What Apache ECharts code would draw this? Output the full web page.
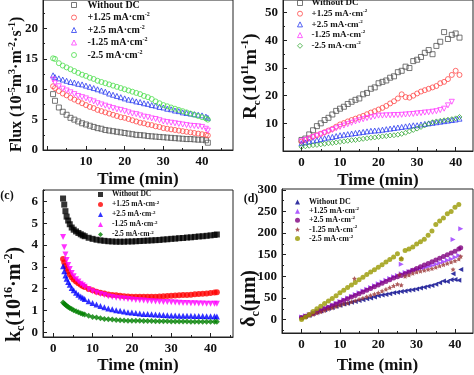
<!DOCTYPE html>
<html><head><meta charset="utf-8">
<script src="https://cdn.jsdelivr.net/npm/echarts@6/dist/echarts.min.js"></script>
<style>html,body{margin:0;padding:0;background:#fff}#c{width:474px;height:375px}</style>
</head><body><div id="c"></div>
<script>
// ---------- Panel (a): Flux ----------
const aTime = [1.5,2,3,4,5,6,7,8,9,10,11,12,13,14,15,16,17,18,19,20,21,22,23,24,25,26,27,28,29,30,31,32,33,34,35,36,37,38,39,40,41,41.5];
const aWithout = [9.2,8.1,7.0,6.3,5.8,5.3,5.0,4.7,4.4,4.2,4.0,3.8,3.6,3.5,3.3,3.2,3.1,3.0,2.9,2.8,2.7,2.6,2.5,2.45,2.4,2.3,2.25,2.2,2.15,2.1,2.05,2.0,1.95,1.9,1.85,1.8,1.8,1.75,1.7,1.7,1.6,1.2];
const aPlus125 = [10.5,10.2,9.7,9.3,9.0,8.6,8.3,8.0,7.7,7.4,7.1,6.9,6.6,6.4,6.2,6.0,5.8,5.6,5.4,5.3,5.1,4.9,4.7,4.5,4.4,4.2,4.1,3.9,3.8,3.6,3.5,3.4,3.3,3.2,3.1,3.0,2.9,2.8,2.7,2.6,2.5,2.4];
const aPlus25 = [12.3,12.0,11.8,11.6,11.4,11.2,11.1,10.9,10.8,10.6,10.4,10.2,10.0,9.8,9.6,9.3,9.1,8.9,8.7,8.5,8.3,8.2,8.0,7.9,7.7,7.6,7.4,7.3,7.1,7.0,6.8,6.7,6.5,6.4,6.2,6.1,6.0,5.9,5.8,5.7,5.5,5.3];
const aMinus125 = [11.6,11.0,10.5,10.1,9.8,9.5,9.2,8.9,8.7,8.5,8.2,8.0,7.7,7.5,7.3,7.1,6.9,6.7,6.6,6.4,6.2,6.0,5.9,5.7,5.5,5.4,5.2,5.1,4.9,4.7,4.6,4.5,4.4,4.3,4.2,4.1,4.0,3.95,3.9,3.8,3.5,3.2];
const aMinus25 = [15.1,15.0,14.3,13.9,13.6,13.3,13.0,12.7,12.4,12.2,11.9,11.7,11.4,11.2,11.0,10.8,10.6,10.4,10.2,10.0,9.8,9.6,9.4,9.2,8.9,8.7,8.4,8.0,7.7,7.4,7.2,7.0,6.8,6.6,6.4,6.2,6.0,5.8,5.6,5.4,5.2,5.0];

// ---------- Panel (b): Rc ----------
const bTime = [0,1,2,3,4,5,6,7,8,9,10,11,12,13,14,15,16,17,18,19,20,21,22,23,24,25,26,27,28,29,30,31,32,33,34,35,36,37,38,39,40,41];
const bWithout = [4.0,4.5,6.0,7.5,9.0,10.0,11.2,12.0,13.2,14.5,15.3,16.0,17.0,17.8,18.5,19.0,20.5,21.0,22.5,23.0,24.5,25.0,25.5,26.5,27.0,28.5,29.0,30.5,30.0,32.5,33.0,34.0,35.5,36.5,35.0,38.0,39.5,43.0,40.5,42.0,42.5,41.0];
const bPlus125 = [3.4,4.0,4.6,5.2,5.7,6.2,6.8,7.4,8.0,8.8,9.6,10.1,10.7,11.2,11.7,12.2,12.7,13.3,13.9,14.4,15.0,15.6,16.3,17.2,18.0,19.0,20.5,19.5,19.3,20.0,20.8,21.5,22.0,22.5,23.0,23.5,24.5,25.0,26.0,27.5,29.0,27.5];
const bPlus25 = [2.8,3.1,3.4,3.7,4.0,4.3,4.6,4.9,5.1,5.4,5.7,5.9,6.1,6.3,6.5,6.7,6.9,7.1,7.3,7.4,7.5,7.7,7.9,8.1,8.3,8.5,8.7,8.9,9.1,9.3,9.3,9.6,9.8,10.0,10.2,10.4,10.6,10.8,11.0,11.2,11.4,11.7];
const bMinus125 = [3.5,4.0,4.5,5.0,5.5,6.0,6.5,7.0,7.6,8.2,8.7,9.2,9.7,10.2,10.7,11.1,11.5,11.9,12.2,12.5,12.8,12.8,12.9,12.9,13.0,13.0,13.1,13.2,13.3,13.4,13.6,13.7,13.9,14.0,14.2,14.4,14.8,15.3,16.5,17.8];
const bMinus25 = [1.5,1.7,1.9,2.1,2.2,2.4,2.6,2.8,2.9,3.1,3.3,3.5,3.7,3.9,4.0,4.2,4.4,4.6,4.8,4.9,5.1,5.3,5.4,5.6,5.7,5.9,6.2,6.6,7.1,7.6,8.1,8.7,9.3,9.9,10.4,10.7,10.9,11.1,11.3,11.5,11.8,12.3];

// ---------- Panel (c): kc ----------
const cTime = [2.5,2.8,3.1,3.4,3.8,4.2,4.7,5.2,5.8,6.4,7,7.5,8,9,10,11,12,13,14,15,16,17,18,19,20,21,22,23,24,25,26,27,28,29,30,31,32,33,34,35,36,37,38,39,40,41,41.6];
const cWithout = [6.13,5.85,5.55,5.3,5.12,4.95,4.8,4.7,4.62,4.55,4.49,4.44,4.4,4.33,4.28,4.24,4.21,4.19,4.17,4.16,4.15,4.15,4.15,4.16,4.16,4.17,4.18,4.19,4.2,4.21,4.22,4.23,4.25,4.26,4.28,4.29,4.31,4.32,4.34,4.35,4.37,4.39,4.4,4.42,4.44,4.46,4.48];
const cPlus125 = [3.36,3.2,3.05,2.92,2.78,2.65,2.52,2.42,2.33,2.25,2.18,2.12,2.07,1.98,1.92,1.86,1.81,1.77,1.73,1.71,1.69,1.67,1.65,1.64,1.63,1.63,1.62,1.62,1.62,1.63,1.63,1.64,1.65,1.66,1.67,1.68,1.69,1.7,1.71,1.72,1.74,1.75,1.76,1.78,1.8,1.82,1.83];
const cPlus25 = [3.02,2.8,2.6,2.45,2.3,2.17,2.03,1.92,1.81,1.72,1.64,1.58,1.52,1.42,1.34,1.27,1.2,1.14,1.09,1.05,1.01,0.98,0.95,0.92,0.9,0.88,0.86,0.84,0.83,0.82,0.81,0.8,0.79,0.78,0.77,0.77,0.76,0.76,0.75,0.75,0.74,0.74,0.74,0.73,0.73,0.73,0.72];
const cMinus125 = [4.37,3.9,3.56,3.31,3.08,2.9,2.72,2.57,2.43,2.32,2.22,2.15,2.08,1.97,1.88,1.81,1.75,1.7,1.65,1.61,1.58,1.56,1.54,1.52,1.5,1.48,1.46,1.45,1.43,1.42,1.41,1.4,1.39,1.38,1.37,1.36,1.35,1.34,1.34,1.33,1.33,1.32,1.32,1.31,1.31,1.3,1.3];
const cMinus25 = [1.36,1.31,1.26,1.21,1.16,1.11,1.06,1.01,0.96,0.91,0.87,0.84,0.81,0.75,0.7,0.67,0.64,0.61,0.59,0.58,0.56,0.55,0.54,0.53,0.53,0.52,0.52,0.51,0.51,0.51,0.5,0.5,0.5,0.5,0.49,0.49,0.49,0.49,0.49,0.48,0.48,0.48,0.48,0.48,0.48,0.48,0.48];

// ---------- Panel (d): delta_c ----------
const dTime = [0,1,2,3,4,5,6,7,8,9,10,11,12,13,14,15,16,17,18,19,20,21,22,23,24,25,26,27,28,29,30,31,32,33,34,35,36,37,38,39,40,41];
const dWithout = [4,7,10,14,17,20,23,26,28,31,33,36,38,40,42,44,46,48,50,52,55,57,58,60,62,63,65,66,68,69,71,73,75,77,79,82,85,89,88,92,93,91];
const dWithoutExtra = [[39.5,106],[41.5,116]];
const dPlus125 = [6,9,12,16,19,23,27,30,34,38,42,46,50,54,58,62,66,70,74,78,83,87,91,95,99,102,106,109,111,114,116,118,120,123,125,128,131,134,137,140,144,148];
const dPlus125Extra = [[26,128],[39.5,185],[41.5,210]];
const dPlus25 = [5,8,11,14,18,21,25,28,32,36,40,44,48,52,56,60,64,68,72,76,80,84,88,92,96,99,102,106,110,114,118,122,126,130,134,138,142,146,150,154,158,163];
const dPlus25Extra = [[41.5,166]];
const dMinus125 = [3,6,9,12,15,18,21,24,27,30,33,36,38,41,44,47,50,53,56,59,62,66,70,74,78,82,80,100,103,107,110,112,114,116,118,121,124,127,130,133,136,140];
const dMinus125Extra = [[13.8,95],[25.5,104],[26,141],[39.5,116],[41.5,146]];
const dMinus25 = [0,6,12,19,25,31,37,43,49,55,62,68,74,80,86,92,98,104,110,115,121,127,133,139,145,152,140,160,163,168,175,180,186,195,205,220,228,235,245,250,260,266];

const names = ['Without DC','+1.25 mA·cm-2','+2.5 mA·cm-2','-1.25 mA·cm-2','-2.5 mA·cm-2'];

const SERIF = '"Liberation Serif","Times New Roman",serif';
const zip = (t, v) => v.map((y, i) => [t[i], y]);

function sc(p, idx, data, symbol, color, size, hollow, rot, gi) {
  return {
    type: 'scatter', name: p + '|' + names[idx], xAxisIndex: gi*2, yAxisIndex: gi*2,
    data: data, symbol: symbol, symbolSize: size, symbolRotate: rot || 0,
    itemStyle: hollow ? {color: 'rgba(0,0,0,0)', borderColor: color, borderWidth: 1} : {color: color},
    emphasis: {disabled: true}, z: 3 + idx
  };
}

const lineC = '#222';
function axes(dir, gi, min, max, ticks, labels, minor, nameOpt) {
  const pos = dir === 'x' ? 'bottom' : 'left';
  const main = {
    type: 'value', gridIndex: gi, min: min, max: max, position: pos,
    axisLine: {show: true, onZero: false, lineStyle: {color: lineC, width: 1}},
    axisTick: {show: true, inside: true, length: 4, customValues: ticks, lineStyle: {color: lineC}},
    axisLabel: {show: true, customValues: labels, fontFamily: SERIF, fontWeight: 'bold', fontSize: 13, color: '#111', margin: 5},
    splitLine: {show: false}
  };
  if (nameOpt) Object.assign(main, nameOpt);
  const mn = {
    type: 'value', gridIndex: gi, min: min, max: max, position: pos, offset: 0,
    axisLine: {show: false, onZero: false}, axisLabel: {show: false}, splitLine: {show: false},
    axisTick: {show: true, inside: true, length: 2, customValues: minor, lineStyle: {color: lineC}}
  };
  return [main, mn];
}
const timeName = (gap) => ({name: 'Time (min)', nameLocation: 'middle', nameGap: gap,
  nameTextStyle: {fontFamily: SERIF, fontWeight: 'bold', fontSize: 17, color: '#111'}});

const xAxis = [].concat(
  axes('x', 0, -1.1, 48, [0,10,20,30,40], [10,20,30,40], [5,15,25,35,45], timeName(21)),
  axes('x', 1, -4.8, 44.5, [0,10,20,30,40], [0,10,20,30,40], [5,15,25,35], timeName(21)),
  axes('x', 2, -2.6, 45.7, [0,10,20,30,40], [0,10,20,30,40], [5,15,25,35,45], timeName(20)),
  axes('x', 3, -5.1, 44.7, [0,10,20,30,40], [0,10,20,30,40], [5,15,25,35], timeName(24))
);
const yAxis = [].concat(
  axes('y', 0, 0, 24.7, [0,5,10,15,20], [0,5,10,15,20], [2.5,7.5,12.5,17.5,22.5]),
  axes('y', 1, 0, 54.6, [0,10,20,30,40,50], [10,20,30,40,50], [5,15,25,35,45]),
  axes('y', 2, -0.22, 6.52, [0,1,2,3,4,5,6], [0,1,2,3,4,5,6], [0.5,1.5,2.5,3.5,4.5,5.5,6.5]),
  axes('y', 3, -31, 302, [0,50,100,150,200,250,300], [0,50,100,150,200,250,300], [-25,25,75,125,175,225,275])
);

const grid = [
  {left: 43, top: -2, width: 190, height: 152},
  {left: 283, top: -2, width: 190, height: 153},
  {left: 43, top: 190, width: 190, height: 154},
  {left: 282, top: 189, width: 191, height: 150}
].map(g => Object.assign(g, {show: true, borderColor: lineC, borderWidth: 1, backgroundColor: 'transparent', containLabel: false}));

const aCol = ['#555555','#ff4a4a','#2a3cf0','#ff3cff','#4ddf4d'];
const bCol = ['#555555','#ff4a4a','#2a3cf0','#ff3cff','#35a835'];
const cCol = ['#000000','#ff0000','#0000ff','#ff00ff','#008000'];
const dCol = ['#00008b','#9933ff','#800080','#993333','#999900'];
const star = 'path://M0,-10 L2.9,-4 9.5,-3.1 4.7,1.5 5.9,8.1 0,5 -5.9,8.1 -4.7,1.5 -9.5,-3.1 -2.9,-4Z';

const HS = 5;
const series = [
  sc('a',0,zip(aTime,aWithout),'rect',aCol[0],HS,true,0,0),
  sc('a',1,zip(aTime,aPlus125),'circle',aCol[1],HS,true,0,0),
  sc('a',2,zip(aTime,aPlus25),'triangle',aCol[2],HS,true,0,0),
  sc('a',3,zip(aTime,aMinus125),'triangle',aCol[3],HS,true,180,0),
  sc('a',4,zip(aTime,aMinus25),'circle',aCol[4],HS,true,0,0),
  sc('b',0,zip(bTime,bWithout),'rect',bCol[0],HS,true,0,1),
  sc('b',1,zip(bTime,bPlus125),'circle',bCol[1],HS,true,0,1),
  sc('b',2,zip(bTime,bPlus25),'triangle',bCol[2],HS,true,0,1),
  sc('b',3,zip(bTime,bMinus125),'triangle',bCol[3],HS,true,180,1),
  sc('b',4,zip(bTime,bMinus25),'diamond',bCol[4],HS,true,0,1),
  sc('c',0,zip(cTime,cWithout),'rect',cCol[0],6,false,0,2),
  sc('c',1,zip(cTime,cPlus125),'circle',cCol[1],6,false,0,2),
  sc('c',2,zip(cTime,cPlus25),'triangle',cCol[2],6,false,0,2),
  sc('c',3,zip(cTime,cMinus125),'triangle',cCol[3],6,false,180,2),
  sc('c',4,zip(cTime,cMinus25),'diamond',cCol[4],6,false,0,2),
  sc('d',0,zip(dTime,dWithout).concat(dWithoutExtra),'triangle',dCol[0],5,false,90,3),
  sc('d',1,zip(dTime,dPlus125).concat(dPlus125Extra),'triangle',dCol[1],5,false,-90,3),
  sc('d',2,zip(dTime,dPlus25).concat(dPlus25Extra),'circle',dCol[2],5,false,0,3),
  sc('d',3,zip(dTime,dMinus125).concat(dMinus125Extra),star,dCol[3],5,false,0,3),
  sc('d',4,zip(dTime,dMinus25),'circle',dCol[4],5,false,0,3)
];

function legend(p, left, top, fs, lh, gap, iconSize, pad) {
  return {
    data: names.map(n => p + '|' + n), orient: 'vertical', left: left, top: top, padding: 0,
    itemWidth: iconSize, itemHeight: iconSize, itemGap: gap, selectedMode: false,
    itemStyle: {borderWidth: 1},
    formatter: function (name) {
      const n = name.split('|')[1];
      if (n.endsWith('cm-2')) return '{t|' + n.slice(0, -2) + '}{s|-2}';
      return '{t|' + n + '}';
    },
    textStyle: {color: '#111', padding: [0,0,0,pad], rich: {
      t: {fontFamily: SERIF, fontWeight: 'bold', fontSize: fs, lineHeight: lh, color: '#111'},
      s: {fontFamily: SERIF, fontWeight: 'bold', fontSize: Math.round(fs*0.6), lineHeight: lh, verticalAlign: 'top', color: '#111'}
    }}
  };
}

const richY = (fs) => ({
  s: {fontFamily: SERIF, fontWeight: 'bold', fontSize: Math.round(fs*0.6), verticalAlign: 'top', lineHeight: fs + 4, fill: '#111'},
  sub: {fontFamily: SERIF, fontWeight: 'bold', fontSize: Math.round(fs*0.6), verticalAlign: 'bottom', lineHeight: fs + 4, fill: '#111'}
});
// x,y = start (bottom end) of the rotated title
function ytitle(text, x, y, fs) {
  return {type: 'text', x: x, y: y, rotation: Math.PI/2, z: 10,
    style: {text: text, fontFamily: SERIF, fontWeight: 'bold', fontSize: fs, lineHeight: fs + 4, fill: '#111',
      align: 'left', verticalAlign: 'middle', textAlign: 'left', textVerticalAlign: 'middle', rich: richY(fs)}};
}
function label(text, x, y) {
  return {type: 'text', x: x, y: y, z: 10,
    style: {text: text, fontFamily: SERIF, fontWeight: 'bold', fontSize: 12, fill: '#111',
      align: 'center', verticalAlign: 'middle', textAlign: 'center', textVerticalAlign: 'middle'}};
}

const chart = echarts.init(document.getElementById('c'), null, {renderer: 'canvas'});
chart.setOption({
  animation: false, backgroundColor: '#fff',
  grid: grid, xAxis: xAxis, yAxis: yAxis, series: series,
  legend: [
    legend('a', 71, 0, 10, 12, 1.5, 5, 6),
    legend('b', 297, -1.5, 9, 11, 0.7, 5, 4),
    legend('c', 98, 190.5, 7.5, 9, 1.5, 5, 4),
    legend('d', 295, 198, 8, 9.5, 0.4, 5, 4)
  ],
  graphic: [
    ytitle('Flux (10{s|-5}m{s|3}·m{s|-2}·s{s|-1})', 17, 152, 16),
    ytitle('R{sub|c}(10{s|11}m{s|-1})', 251, 119, 19),
    ytitle('k{sub|c}(10{s|16}·m{s|-2})', 15, 342, 20),
    ytitle('δ{sub|c}(μm)', 250, 327, 20),
    label('(c)', 7, 196),
    label('(d)', 251, 199)
  ]
});
</script></body></html>
